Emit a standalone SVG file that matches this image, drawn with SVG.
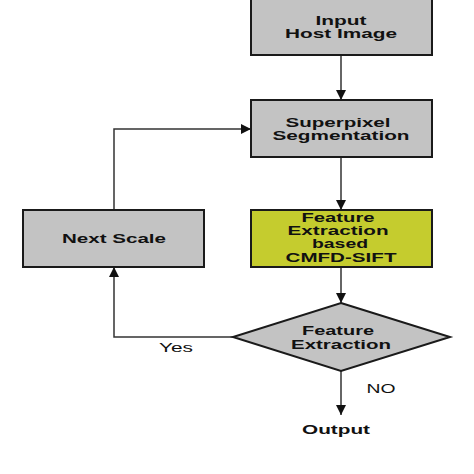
<svg xmlns="http://www.w3.org/2000/svg" width="474" height="474" viewBox="0 0 474 474">
<style>
.box{fill:#c3c3c3;stroke:#1a1a1a;stroke-width:2}
.yel{fill:#c5cc2e;stroke:#1a1a1a;stroke-width:2}
.t{font-family:"Liberation Sans",Arial,sans-serif;font-weight:bold;font-size:12px;fill:#111;text-anchor:middle}
.l{font-family:"Liberation Sans",Arial,sans-serif;font-size:13px;fill:#111;text-anchor:middle}
.c{fill:none;stroke:#333;stroke-width:1.5}
</style>
<defs>
<marker id="ah" markerWidth="10" markerHeight="10" refX="10" refY="5" orient="auto" markerUnits="userSpaceOnUse">
<path d="M0,0 L10,5 L0,10 Z" fill="#111"/>
</marker>
</defs>
<rect width="474" height="474" fill="#fff"/>
<g id="connectors">
<path class="c" d="M341,55 V100" marker-end="url(#ah)"/>
<path class="c" d="M341,157 V210" marker-end="url(#ah)"/>
<path class="c" d="M341,267 V303" marker-end="url(#ah)"/>
<path class="c" d="M114,210 V129 H251" marker-end="url(#ah)"/>
<path class="c" d="M233,337 H114 V267" marker-end="url(#ah)"/>
<path class="c" d="M341,371 V415" marker-end="url(#ah)"/>
<text class="l" x="176" y="352" textLength="34" lengthAdjust="spacingAndGlyphs">Yes</text>
<text class="l" x="381" y="393" textLength="29" lengthAdjust="spacingAndGlyphs">NO</text>
</g>
<g id="input">
<rect class="box" x="251" y="-3" width="181" height="58"/>
<text class="t" x="341" y="25" textLength="51" lengthAdjust="spacingAndGlyphs">Input</text>
<text class="t" x="341" y="38" textLength="112" lengthAdjust="spacingAndGlyphs">Host Image</text>
</g>
<g id="superpixel">
<rect class="box" x="251" y="100" width="181" height="57"/>
<text class="t" x="338" y="127" textLength="105" lengthAdjust="spacingAndGlyphs">Superpixel</text>
<text class="t" x="341" y="140" textLength="137" lengthAdjust="spacingAndGlyphs">Segmentation</text>
</g>
<g id="feature">
<rect class="yel" x="251" y="210" width="181" height="57"/>
<text class="t" x="338" y="222" textLength="73" lengthAdjust="spacingAndGlyphs">Feature</text>
<text class="t" x="338" y="235" textLength="101" lengthAdjust="spacingAndGlyphs">Extraction</text>
<text class="t" x="340" y="248" textLength="56" lengthAdjust="spacingAndGlyphs">based</text>
<text class="t" x="341" y="262" textLength="111" lengthAdjust="spacingAndGlyphs">CMFD-SIFT</text>
</g>
<g id="nextscale">
<rect class="box" x="23" y="210" width="181" height="57"/>
<text class="t" x="114" y="243" textLength="104" lengthAdjust="spacingAndGlyphs">Next Scale</text>
</g>
<g id="decision">
<polygon class="box" points="341,303 450,337 341,371 233,337"/>
<text class="t" x="338" y="335" textLength="72" lengthAdjust="spacingAndGlyphs">Feature</text>
<text class="t" x="341" y="349" textLength="100" lengthAdjust="spacingAndGlyphs">Extraction</text>
</g>
<g id="output">
<text class="t" x="336" y="434" textLength="68" lengthAdjust="spacingAndGlyphs">Output</text>
</g>
</svg>
